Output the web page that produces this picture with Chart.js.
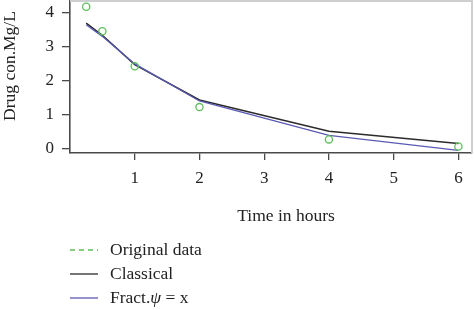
<!DOCTYPE html>
<html>
<head>
<meta charset="utf-8">
<script src="https://cdn.jsdelivr.net/npm/chart.js@4/dist/chart.umd.min.js"></script>
<style>
  html, body { margin: 0; padding: 0; background: #fff; }
  #wrap { width: 474px; height: 310px; position: relative; }
</style>
</head>
<body>
<div id="wrap"><canvas id="c" width="474" height="310"></canvas></div>
<script>
// ---- data ----
const timeHours = [0.25, 0.5, 1, 2, 4, 6];
const originalData = [4.18, 3.46, 2.43, 1.23, 0.28, 0.07];
const classicalFit = [3.70, 3.34, 2.48, 1.44, 0.52, 0.16];
const fractFit = [3.65, 3.31, 2.50, 1.41, 0.40, -0.04];
const xTickValues = [1, 2, 3, 4, 5, 6];
const yTickValues = [0, 1, 2, 3, 4];
const seriesLabels = ['Original data', 'Classical', 'Fract.ψ = x'];
const xTitle = 'Time in hours';
const yTitle = 'Drug con.Mg/L';

const SERIF = '"Liberation Serif", "DejaVu Serif", serif';
const AXIS = '#4a4a4a';
const GREEN = '#5cbf5c';
const BLACK = '#2b2b2b';
const BLUE = '#5a5ab4';

function pts(ys) { return timeHours.map((x, i) => ({ x: x, y: ys[i] })); }

function zeroPad(s) { s.paddingTop = 0; s.paddingBottom = 0; s.paddingLeft = 0; s.paddingRight = 0; }

const decor = {
  id: 'decor',
  afterDraw(chart) {
    const ctx = chart.ctx;
    const ca = chart.chartArea;
    ctx.save();
    // light frame at top/right
    ctx.strokeStyle = '#cfcfcf';
    ctx.lineWidth = 2;
    ctx.beginPath();
    ctx.moveTo(ca.left, ca.top);
    ctx.lineTo(ca.right, ca.top);
    ctx.lineTo(ca.right, ca.bottom);
    ctx.stroke();
    // axis titles
    ctx.fillStyle = '#222';
    ctx.font = '17.5px ' + SERIF;
    ctx.textAlign = 'center';
    ctx.textBaseline = 'middle';
    ctx.fillText(xTitle, 286, 216);
    ctx.save();
    ctx.translate(15, 66);
    ctx.rotate(-Math.PI / 2);
    ctx.textBaseline = 'alphabetic';
    ctx.fillText(yTitle, 0, 0);
    ctx.restore();
    // legend
    const rows = [250, 274, 298];
    chart.data.datasets.forEach((ds, i) => {
      const y = rows[i];
      ctx.strokeStyle = ds.legendColor;
      ctx.lineWidth = 1.3;
      ctx.setLineDash(ds.legendDash || []);
      ctx.beginPath();
      ctx.moveTo(70, y);
      ctx.lineTo(98, y);
      ctx.stroke();
      ctx.setLineDash([]);
      ctx.fillStyle = '#222';
      ctx.textAlign = 'left';
      ctx.textBaseline = 'middle';
      const parts = ds.label.split('ψ');
      let x = 110;
      parts.forEach((p, j) => {
        ctx.font = '17.5px ' + SERIF;
        ctx.fillText(p, x, y);
        x += ctx.measureText(p).width;
        if (j < parts.length - 1) {
          ctx.font = 'italic 17.5px ' + SERIF;
          ctx.fillText('ψ', x, y);
          x += ctx.measureText('ψ').width;
        }
      });
    });
    ctx.restore();
  }
};

new Chart(document.getElementById('c'), {
  type: 'scatter',
  data: {
    datasets: [
      {
        label: seriesLabels[0],
        data: pts(originalData),
        showLine: false,
        pointStyle: 'circle',
        pointRadius: 3.6,
        pointBorderWidth: 1.3,
        pointBorderColor: GREEN,
        pointBackgroundColor: 'rgba(0,0,0,0)',
        legendColor: GREEN,
        legendDash: [5, 4],
        order: 0
      },
      {
        label: seriesLabels[1],
        data: pts(classicalFit),
        showLine: true,
        borderColor: BLACK,
        borderWidth: 1.5,
        pointRadius: 0,
        tension: 0,
        legendColor: BLACK,
        order: 2
      },
      {
        label: seriesLabels[2],
        data: pts(fractFit),
        showLine: true,
        borderColor: BLUE,
        borderWidth: 1.3,
        pointRadius: 0,
        tension: 0,
        legendColor: BLUE,
        order: 1
      }
    ]
  },
  options: {
    responsive: false,
    animation: false,
    clip: false,
    layout: { autoPadding: false, padding: { left: 0, right: 2, top: 1, bottom: 117 } },
    plugins: { legend: { display: false }, tooltip: { enabled: false } },
    scales: {
      x: {
        type: 'linear',
        min: 0,
        max: 6.21,
        afterBuildTicks: s => { s.ticks = xTickValues.map(v => ({ value: v })); },
        afterFit: s => { s.height = 40; zeroPad(s); },
        border: { display: true, color: AXIS, width: 1.6 },
        grid: { drawOnChartArea: false, drawTicks: true, tickLength: 7, color: AXIS, lineWidth: 1.3 },
        ticks: { color: '#222', font: { family: SERIF, size: 17 }, padding: 8, maxRotation: 0 }
      },
      y: {
        type: 'linear',
        min: -0.12,
        max: 4.35,
        afterBuildTicks: s => { s.ticks = yTickValues.map(v => ({ value: v })); },
        afterFit: s => { s.width = 70; zeroPad(s); },
        border: { display: true, color: AXIS, width: 1.6 },
        grid: { drawOnChartArea: false, drawTicks: true, tickLength: 8, color: AXIS, lineWidth: 1.3 },
        ticks: { color: '#222', font: { family: SERIF, size: 17 }, padding: 8 }
      }
    }
  },
  plugins: [decor]
});
</script>
</body>
</html>
